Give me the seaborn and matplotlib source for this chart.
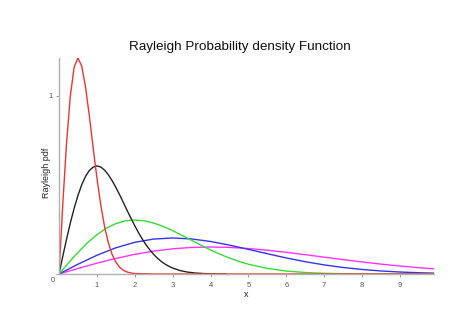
import matplotlib
matplotlib.use("Agg")
import matplotlib.pyplot as plt
import matplotlib.transforms as mtransforms
import seaborn as sns
import pandas as pd

# sigma = 0.5 (red)
x_red = [0, 0.1, 0.2, 0.3, 0.4, 0.5, 0.6, 0.7, 0.8, 0.9, 1.0, 1.1, 1.2, 1.3, 1.4,
         1.5, 1.6, 1.7, 1.8, 1.9, 2.0, 2.5, 3.0, 9.9]
y_red = [0, 0.392, 0.738, 1.002, 1.162, 1.213, 1.168, 1.051, 0.890, 0.712, 0.541,
         0.391, 0.269, 0.177, 0.111, 0.0667, 0.0383, 0.0210, 0.0110, 0.0056, 0.0027,
         0.0000, 0.0, 0.0]

# sigma = 1 (black)
x_black = [0, 0.1, 0.2, 0.3, 0.4, 0.5, 0.6, 0.7, 0.8, 0.9, 1.0, 1.1, 1.2, 1.3, 1.4,
           1.5, 1.6, 1.7, 1.8, 1.9, 2.0, 2.1, 2.2, 2.3, 2.4, 2.5, 2.6, 2.7, 2.8,
           2.9, 3.0, 3.2, 3.4, 3.6, 3.8, 4.0, 4.4]
y_black = [0, 0.0995, 0.196, 0.287, 0.369, 0.441, 0.501, 0.548, 0.581, 0.600, 0.607,
           0.601, 0.584, 0.558, 0.525, 0.487, 0.445, 0.401, 0.356, 0.313, 0.271,
           0.232, 0.196, 0.163, 0.135, 0.110, 0.0885, 0.0705, 0.0556, 0.0433,
           0.0333, 0.0191, 0.0105, 0.0055, 0.0028, 0.0013, 0.0002]

# sigma = 2 (green)
x_green = [0, 0.25, 0.5, 0.75, 1.0, 1.25, 1.5, 1.75, 2.0, 2.25, 2.5, 2.75, 3.0, 3.25,
           3.5, 3.75, 4.0, 4.25, 4.5, 4.75, 5.0, 5.5, 6.0, 6.5, 7.0, 7.5, 8.0, 9.0, 9.9]
y_green = [0, 0.0620, 0.1212, 0.1748, 0.2206, 0.2571, 0.2831, 0.2983, 0.3033, 0.2987,
           0.2861, 0.2672, 0.2435, 0.2170, 0.1893, 0.1617, 0.1353, 0.1111, 0.0895,
           0.0708, 0.0549, 0.0313, 0.0167, 0.0083, 0.0038, 0.0017, 0.0007, 0.0001, 0.0]

# sigma = 3 (blue)
x_blue = [0, 0.5, 1.0, 1.5, 2.0, 2.5, 3.0, 3.5, 4.0, 4.5, 5.0, 5.5, 6.0, 6.5, 7.0,
          7.5, 8.0, 8.5, 9.0, 9.5, 9.9]
y_blue = [0, 0.0548, 0.1051, 0.1471, 0.1779, 0.1963, 0.2022, 0.1969, 0.1827, 0.1623,
          0.1386, 0.1139, 0.0902, 0.0691, 0.0511, 0.0366, 0.0254, 0.0171, 0.0111,
          0.0070, 0.0048]

# sigma = 4 (magenta)
x_mag = [0, 0.5, 1.0, 1.5, 2.0, 2.5, 3.0, 3.5, 4.0, 4.5, 5.0, 5.5, 6.0, 6.5, 7.0,
         7.5, 8.0, 8.5, 9.0, 9.5, 9.9]
y_mag = [0, 0.0310, 0.0606, 0.0874, 0.1103, 0.1285, 0.1415, 0.1492, 0.1516, 0.1494,
         0.1431, 0.1336, 0.1218, 0.1085, 0.0946, 0.0808, 0.0677, 0.0556, 0.0448,
         0.0354, 0.0290]

x_ticks = [1, 2, 3, 4, 5, 6, 7, 8, 9]
y_ticks = [0, 1]

sns.set_style("white")
plt.rcParams['font.family'] = ['Liberation Sans', 'DejaVu Sans']

fig = plt.figure(figsize=(4.74, 3.35), dpi=100)
ax = fig.add_axes([59 / 474, 61 / 335, 375 / 474, 216 / 335])

series = [
    (x_mag, y_mag, "#ff33ff"),
    (x_blue, y_blue, "#3333ee"),
    (x_green, y_green, "#33dd33"),
    (x_black, y_black, "#222222"),
    (x_red, y_red, "#ee3333"),
]
for xs, ys, c in series:
    df = pd.DataFrame({"x": xs, "y": ys})
    sns.lineplot(data=df, x="x", y="y", ax=ax, color=c, linewidth=1.0,
                 sort=False, estimator=None)

ax.set_xlim(0, 9.9)
ax.set_ylim(0, 1.213)
ax.set_xticks(x_ticks)
ax.set_xticklabels([str(t) for t in x_ticks])
ax.set_yticks(y_ticks)
ax.set_yticklabels([str(t) for t in y_ticks])

for side in ["top", "right"]:
    ax.spines[side].set_visible(False)
for side in ["left", "bottom"]:
    ax.spines[side].set_color("#b0b0b0")
    ax.spines[side].set_linewidth(1.0)

ax.tick_params(axis="both", which="both", length=2.5, width=0.7, color="#999999",
               labelsize=5.5, labelcolor="#555555", pad=2, direction="out")
ax.tick_params(axis="x", bottom=True, pad=3)
ax.tick_params(axis="y", left=True)

# shift the "0" label slightly down/right as in the reference
lbl0 = ax.get_yticklabels()[0]
lbl0.set_transform(lbl0.get_transform() +
                   mtransforms.ScaledTranslation(2 / 100, -5 / 100, fig.dpi_scale_trans))

ax.set_xlabel("x", fontsize=6.5, labelpad=1, color="#222222")
ax.set_ylabel("Rayleigh pdf", fontsize=6.5, color="#222222")
ax.yaxis.set_label_coords(-0.022, 0.47)
fig.text(240 / 474, 1 - 47 / 335, "Rayleigh Probability density Function",
         ha="center", va="center", fontsize=9.7, color="#111111")

fig.savefig("out.png", dpi=100, facecolor="white")
